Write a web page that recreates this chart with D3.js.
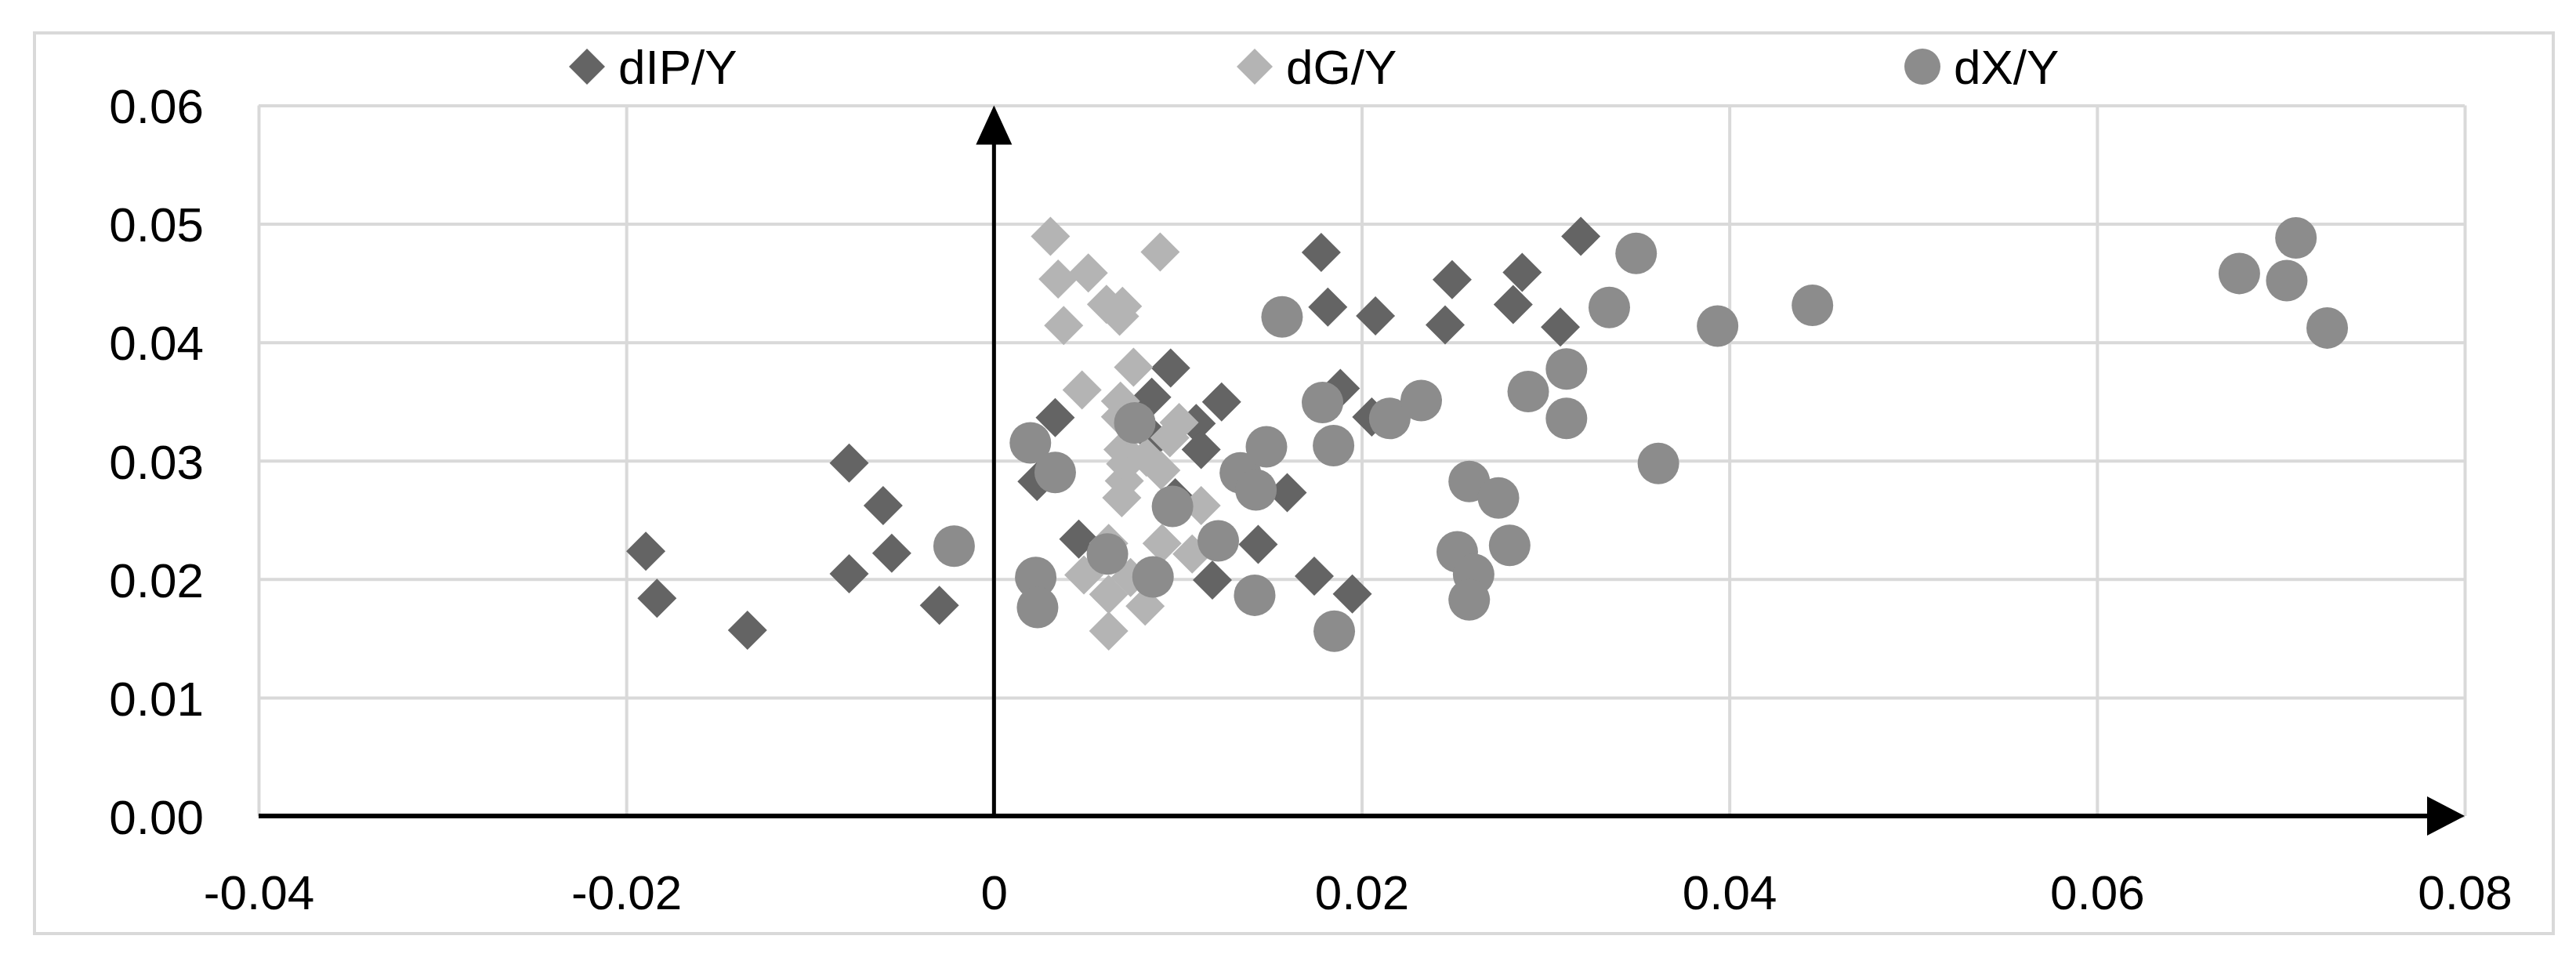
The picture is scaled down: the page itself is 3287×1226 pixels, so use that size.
<!DOCTYPE html>
<html>
<head>
<meta charset="utf-8">
<script src="https://cdn.jsdelivr.net/npm/d3@7"></script>
<style>
  body { margin: 0; background: #fff; }
  text { font-family: "Liberation Sans", Arial, sans-serif; fill: #000; }
</style>
</head>
<body>
<div id="chart"></div>
<script>
const seriesNames = ['dIP/Y', 'dG/Y', 'dX/Y'];
const seriesColors = ['#646464', '#b4b4b4', '#8c8c8c'];

// [x, y] pairs
const dIP = [
  [-0.01894, 0.02235], [-0.01833, 0.01838], [-0.01341, 0.01568], [-0.00788, 0.02980],
  [-0.00603, 0.02621], [-0.00556, 0.02219], [-0.00788, 0.02045], [-0.00297, 0.01778],
  [0.00234, 0.02825], [0.00333, 0.03364], [0.00461, 0.02338], [0.00858, 0.03536],
  [0.00872, 0.03183], [0.00961, 0.03783], [0.01100, 0.03315], [0.01127, 0.03095],
  [0.01238, 0.03497], [0.00986, 0.02687], [0.01188, 0.01992], [0.01437, 0.02294],
  [0.01595, 0.02731], [0.01742, 0.02025], [0.01949, 0.01875], [0.01780, 0.04759],
  [0.01816, 0.04298], [0.01884, 0.03610], [0.02055, 0.03369], [0.02075, 0.04223],
  [0.02492, 0.04529], [0.02454, 0.04147], [0.02873, 0.04590], [0.02824, 0.04319],
  [0.03192, 0.04894], [0.03081, 0.04129]
];

const dG = [
  [0.00307, 0.04895], [0.00904, 0.04762], [0.00349, 0.04534], [0.00513, 0.04586],
  [0.00612, 0.04320], [0.00699, 0.04304], [0.00683, 0.04220], [0.00379, 0.04142],
  [0.00759, 0.03790], [0.00479, 0.03598], [0.00688, 0.03503], [0.00688, 0.03371],
  [0.00702, 0.03095], [0.00716, 0.02974], [0.00709, 0.02830], [0.00695, 0.02687],
  [0.01007, 0.03322], [0.00957, 0.03194], [0.00908, 0.02919], [0.01127, 0.02621],
  [0.00829, 0.03029], [0.00624, 0.01562], [0.00822, 0.01772], [0.00624, 0.01871],
  [0.00489, 0.02036], [0.00914, 0.02301], [0.01078, 0.02212], [0.00624, 0.02301],
  [0.00743, 0.02014]
];

const dX = [
  [-0.00217, 0.02279], [0.00198, 0.03150], [0.00333, 0.02901], [0.00227, 0.02014],
  [0.00237, 0.01760], [0.00617, 0.02212], [0.00766, 0.03320], [0.00971, 0.02614],
  [0.00865, 0.02019], [0.01220, 0.02323], [0.01418, 0.01864], [0.01340, 0.02897],
  [0.01482, 0.03117], [0.01425, 0.02753], [0.01567, 0.04214], [0.01787, 0.03491],
  [0.01847, 0.03128], [0.01851, 0.01560], [0.02153, 0.03357], [0.02324, 0.03508],
  [0.02906, 0.03584], [0.03114, 0.03774], [0.03114, 0.03357], [0.03347, 0.04294],
  [0.03493, 0.04750], [0.03936, 0.04137], [0.04452, 0.04312], [0.03614, 0.02977],
  [0.02585, 0.02825], [0.02744, 0.02686], [0.02805, 0.02285], [0.02520, 0.02230],
  [0.02609, 0.02040], [0.02585, 0.01825], [0.06774, 0.04581], [0.07082, 0.04882],
  [0.07032, 0.04521], [0.07252, 0.04121]
];

const xTicks = [-0.04, -0.02, 0, 0.02, 0.04, 0.06, 0.08];
const xTickLabels = ['-0.04', '-0.02', '0', '0.02', '0.04', '0.06', '0.08'];
const yTicks = [0, 0.01, 0.02, 0.03, 0.04, 0.05, 0.06];
const yTickLabels = ['0.00', '0.01', '0.02', '0.03', '0.04', '0.05', '0.06'];

const width = 3287, height = 1226;
const plot = {left: 330, right: 3145, top: 134.5, bottom: 1041};
const gridColor = '#d9d9d9';
const fontSize = 62;

const svg = d3.select('#chart').append('svg')
    .attr('width', width).attr('height', height);

svg.append('rect').attr('width', width).attr('height', height).attr('fill', '#fff');

// chart border
svg.append('rect')
    .attr('x', 44).attr('y', 42).attr('width', 3214).attr('height', 1149)
    .attr('fill', 'none').attr('stroke', gridColor).attr('stroke-width', 4);

const x = d3.scaleLinear().domain([-0.04, 0.08]).range([plot.left, plot.right]);
const y = d3.scaleLinear().domain([0, 0.06]).range([plot.bottom, plot.top]);

// vertical gridlines + x labels
const xAxis = svg.append('g')
    .attr('transform', `translate(0,${plot.bottom})`)
    .call(d3.axisBottom(x).tickValues(xTicks)
      .tickSize(-(plot.bottom - plot.top))
      .tickFormat((d, i) => xTickLabels[i]));
xAxis.select('.domain').remove();
xAxis.selectAll('line').attr('stroke', gridColor).attr('stroke-width', 4);
xAxis.selectAll('text')
    .attr('y', 119).attr('dy', null)
    .style('font-size', fontSize + 'px');

// horizontal gridlines + y labels
const yAxis = svg.append('g')
    .attr('transform', `translate(${plot.left},0)`)
    .call(d3.axisLeft(y).tickValues(yTicks)
      .tickSize(-(plot.right - plot.left))
      .tickFormat((d, i) => yTickLabels[i]));
yAxis.select('.domain').remove();
yAxis.selectAll('line').attr('stroke', gridColor).attr('stroke-width', 4);
yAxis.selectAll('text')
    .attr('x', -70).attr('dy', '0.36em')
    .style('font-size', fontSize + 'px');
yAxis.attr('font-family', null);
xAxis.attr('font-family', null);

// black axes with arrows
const axisLayer = svg.append('g');
const x0 = x(0), y0 = y(0);
axisLayer.append('line')
    .attr('x1', x0).attr('x2', x0).attr('y1', y0).attr('y2', plot.top + 40)
    .attr('stroke', '#000').attr('stroke-width', 5);
axisLayer.append('path')
    .attr('d', `M${x0},${plot.top} L${x0 + 23},${plot.top + 50} L${x0 - 23},${plot.top + 50} Z`)
    .attr('fill', '#000');
axisLayer.append('line')
    .attr('x1', plot.left).attr('x2', plot.right - 40).attr('y1', y0).attr('y2', y0)
    .attr('stroke', '#000').attr('stroke-width', 6);
axisLayer.append('path')
    .attr('d', `M${plot.right},${y0} L${plot.right - 48},${y0 - 25} L${plot.right - 48},${y0 + 25} Z`)
    .attr('fill', '#000');

const diamond = d3.symbol().type(d3.symbolSquare).size(1250);
const diamondSmall = d3.symbol().type(d3.symbolSquare).size(1058);

function drawDiamonds(data, color) {
  svg.append('g').selectAll('path')
    .data(data)
    .join('path')
      .attr('d', diamond)
      .attr('transform', d => `translate(${x(d[0])},${y(d[1])}) rotate(45)`)
      .attr('fill', color);
}

drawDiamonds(dIP, seriesColors[0]);
drawDiamonds(dG, seriesColors[1]);

svg.append('g').selectAll('circle')
  .data(dX)
  .join('circle')
    .attr('cx', d => x(d[0]))
    .attr('cy', d => y(d[1]))
    .attr('r', 26.5)
    .attr('fill', seriesColors[2]);

// legend
const legendStart = 749, legendGap = 852, legendY = 85;
const legend = svg.append('g');
seriesNames.forEach((name, i) => {
  const lx = legendStart + i * legendGap;
  if (i < 2) {
    legend.append('path')
      .attr('d', diamondSmall)
      .attr('transform', `translate(${lx},${legendY}) rotate(45)`)
      .attr('fill', seriesColors[i]);
  } else {
    legend.append('circle')
      .attr('cx', lx).attr('cy', legendY).attr('r', 23)
      .attr('fill', seriesColors[i]);
  }
  legend.append('text')
    .attr('x', lx + 40).attr('y', 107)
    .style('font-size', fontSize + 'px')
    .text(name);
});
</script>
</body>
</html>
